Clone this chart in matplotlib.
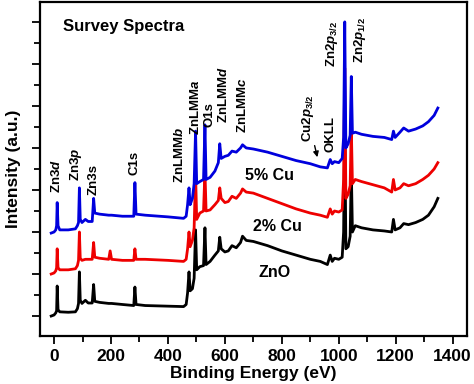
"""
    XPS survey spectra of ZnO, 2% Cu and 5% Cu samples, stacked with offsets.
"""
import matplotlib.pyplot as plt
from matplotlib.ticker import MultipleLocator, NullFormatter

plt.rcParams['font.family'] = ['Liberation Sans', 'DejaVu Sans']
plt.rcParams['font.weight'] = 'bold'
plt.rcParams['axes.labelweight'] = 'bold'
plt.rcParams['mathtext.fontset'] = 'custom'
plt.rcParams['mathtext.rm'] = 'Liberation Sans:bold'
plt.rcParams['mathtext.it'] = 'Liberation Sans:bold:italic'
plt.rcParams['mathtext.bf'] = 'Liberation Sans:bold'

# binding energy grid (eV), shared by the three spectra
energy = [-10, 0, 6, 9, 11, 14, 20, 50, 75, 82,
          86, 89, 92, 98, 110, 120, 134, 139, 143, 160,
          192, 197, 202, 240, 280, 284, 288, 320, 400, 455,
          464, 469, 474, 478, 486, 492, 497, 501, 512, 525,
          530, 534, 548, 565, 577, 582, 587, 600, 612, 625,
          640, 655, 662, 675, 700, 750, 800, 850, 900, 935,
          960, 970, 977, 985, 1000, 1012, 1017, 1021, 1025, 1033,
          1040, 1044, 1048, 1058, 1080, 1120, 1160, 1186, 1192, 1198,
          1215, 1228, 1245, 1270, 1295, 1315, 1335, 1348]

# intensities (a.u., already offset)
zno = [0.0, 0.05, 0.15, 0.25, 1.43, 0.3, 0.2, 0.18, 0.2, 0.35,
       0.6, 2.1, 0.75, 0.6, 0.75, 0.62, 0.62, 1.5, 0.7, 0.65,
       0.6, 0.6, 0.6, 0.55, 0.5, 1.38, 0.55, 0.5, 0.47, 0.45,
       0.55, 1.1, 2.1, 1.2, 1.3, 1.8, 4.1, 2.2, 2.35, 2.4,
       4.2, 2.45, 2.6, 2.9, 3.1, 3.75, 3.2, 3.05, 3.1, 3.35,
       3.25, 3.5, 3.8, 3.6, 3.55, 3.35, 3.1, 2.9, 2.7, 2.6,
       2.45, 2.9, 2.6, 2.75, 2.7, 2.8, 4.0, 9.5, 3.2, 3.3,
       3.8, 7.0, 4.0, 4.3, 4.2, 4.1, 4.05, 4.0, 4.6, 4.1,
       4.2, 4.4, 4.35, 4.45, 4.6, 4.8, 5.2, 5.6]

cu2 = [2.0, 2.05, 2.15, 2.3, 3.2, 2.3, 2.2, 2.2, 2.25, 2.4,
       2.65, 4.0, 2.75, 2.65, 2.7, 2.7, 2.7, 3.5, 2.8, 2.75,
       2.7, 3.1, 2.7, 2.65, 2.65, 3.2, 2.7, 2.7, 2.65, 2.6,
       2.7, 3.2, 4.0, 3.3, 3.6, 4.2, 6.8, 4.6, 4.9, 5.0,
       6.9, 5.0, 5.05, 5.3, 5.5, 6.1, 5.6, 5.4, 5.45, 5.7,
       5.6, 5.85, 6.05, 5.9, 5.85, 5.6, 5.35, 5.1, 4.9, 4.8,
       4.7, 5.1, 4.85, 5.0, 4.95, 5.05, 6.5, 11.8, 5.6, 5.8,
       6.2, 9.0, 6.3, 6.5, 6.4, 6.25, 6.1, 5.9, 6.5, 6.0,
       6.1, 6.3, 6.2, 6.3, 6.5, 6.7, 7.0, 7.3]

cu5 = [3.95, 4.0, 4.1, 4.3, 5.4, 4.3, 4.1, 4.1, 4.15, 4.3,
       4.45, 6.1, 4.6, 4.45, 4.6, 4.5, 4.5, 5.6, 4.9, 4.85,
       4.8, 4.8, 4.8, 4.75, 4.75, 6.35, 4.85, 4.8, 4.72, 4.65,
       4.75, 5.3, 6.1, 5.3, 5.6, 6.3, 8.8, 6.3, 6.4, 6.5,
       9.1, 6.5, 6.6, 6.9, 7.3, 8.2, 7.5, 7.6, 7.65, 7.85,
       7.8, 8.0, 8.15, 8.0, 7.95, 7.8, 7.6, 7.4, 7.25, 7.1,
       7.05, 7.45, 7.25, 7.35, 7.3, 7.5, 8.5, 14.0, 8.0, 8.2,
       8.6, 11.4, 8.7, 8.75, 8.65, 8.55, 8.5, 8.4, 8.8, 8.5,
       8.75, 8.95, 8.8, 8.9, 9.05, 9.25, 9.55, 9.9]

# peak labels: (text, energy, bottom of text)
peak_labels = [
    (r'Zn3$d$', 7, 5.86),
    (r'Zn3$p$', 77, 6.45),
    ('Zn3s', 140, 5.76),
    ('C1s', 281, 6.7),
    (r'ZnLMM$b$', 442, 6.33),
    (r'ZnLMM$a$', 497, 8.62),
    ('O1s', 546, 9.0),
    (r'ZnLMM$d$', 595, 9.19),
    (r'ZnLMM$c$', 663, 8.71),
    (r'Cu2$p_{\mathit{3/2}}$', 892, 8.29),
    ('OKLL', 972, 7.81),
    (r'Zn2$p_{\mathit{3/2}}$', 976, 11.86),
    (r'Zn2$p_{\mathit{1/2}}$', 1074, 12.05),
]

sample_labels = [('5% Cu', 758, 6.71), ('2% Cu', 786, 4.24), ('ZnO', 776, 2.05)]

xticks = [0, 200, 400, 600, 800, 1000, 1200, 1400]

fig = plt.figure(figsize=(4.74, 3.84), dpi=100)
ax = fig.add_axes([0.084, 0.125, 0.901, 0.87])

ax.plot(energy, zno, color='black', lw=2)
ax.plot(energy, cu2, color='#ee0000', lw=2)
ax.plot(energy, cu5, color='#0000dd', lw=2)

for txt, x, y in peak_labels:
    ax.text(x, y, txt, rotation=90, ha='center', va='bottom', fontsize=9.5)

for txt, x, y in sample_labels:
    ax.text(x, y, txt, ha='center', va='center', fontsize=11.5)

ax.text(32, 13.76, 'Survey Spectra', ha='left', va='center', fontsize=12)

ax.annotate('', xy=(927, 7.43), xytext=(913, 8.24),
            arrowprops=dict(arrowstyle='-|>', color='black', lw=1, mutation_scale=8))

ax.set_xlim(-50, 1450)
ax.set_ylim(-0.95, 14.95)
ax.set_xticks(xticks, labels=[str(t) for t in xticks], fontweight='bold', fontsize=12.5)
ax.xaxis.set_minor_locator(MultipleLocator(100))
ax.yaxis.set_major_locator(MultipleLocator(2))
ax.yaxis.set_minor_locator(MultipleLocator(1))
ax.yaxis.set_major_formatter(NullFormatter())
ax.tick_params(which='both', direction='out', width=1.3)
ax.tick_params(which='major', length=6)
ax.tick_params(which='minor', length=4)
for sp in ax.spines.values():
    sp.set_linewidth(1.6)

ax.set_xlabel('Binding Energy (eV)', fontsize=12.5, fontweight='bold', labelpad=1)
ax.set_ylabel('Intensity (a.u.)', fontsize=12.5, fontweight='bold', labelpad=4)

fig.savefig('out.png', dpi=100)
